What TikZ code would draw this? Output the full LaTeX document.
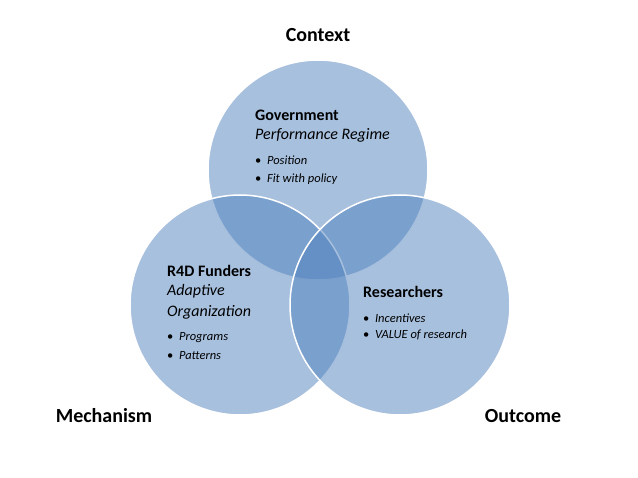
\documentclass[tikz,border=0pt]{standalone}
\usepackage{fontspec}
\setmainfont{Carlito}
\definecolor{vb}{RGB}{79,129,189}
\begin{document}
\begin{tikzpicture}[x=1pt,y=-1pt,
  circ/.style={circle,minimum size=220pt,fill=vb,fill opacity=0.5,draw=white,line width=1.5pt,inner sep=0},
  lab/.style={font=\fontsize{20}{24}\selectfont\bfseries},
  head/.style={anchor=west,font=\fontsize{16}{19}\selectfont\bfseries,inner sep=0},
  ital/.style={anchor=west,font=\fontsize{16}{19}\selectfont\itshape,inner sep=0},
  bul/.style={anchor=west,font=\fontsize{12.5}{15}\selectfont\itshape,inner sep=0}]
\useasboundingbox (0,0) rectangle (638,478);
\node[circ] (top) at (318,170) {};
\node[circ] (left) at (240,305) {};
\node[circ] (right) at (400,305) {};
\node[lab] (ctx) at (318,35) {Context};
\node[lab] (mech) at (104,416) {Mechanism};
\node[lab] (out) at (523,416) {Outcome};
\node[head] (g1) at (255,115) {Government};
\node[ital] (g2) at (255,135) {Performance Regime};
\node[bul] (g3) at (255,160) {\upshape•\itshape\ \ Position};
\node[bul] (g4) at (255,179) {\upshape•\itshape\ \ Fit with policy};
\node[head] (f1) at (167,271) {R4D Funders};
\node[ital] (f2) at (167,291) {Adaptive};
\node[ital] (f3) at (167,312) {Organization};
\node[bul] (f4) at (167,338) {\upshape•\itshape\ \ Programs};
\node[bul] (f5) at (167,356) {\upshape•\itshape\ \ Patterns};
\node[head] (r1) at (363,292) {Researchers};
\node[bul] (r2) at (363,318) {\upshape•\itshape\ \ Incentives};
\node[bul] (r3) at (363,335) {\upshape•\itshape\ \ VALUE of research};
\end{tikzpicture}
\end{document}
